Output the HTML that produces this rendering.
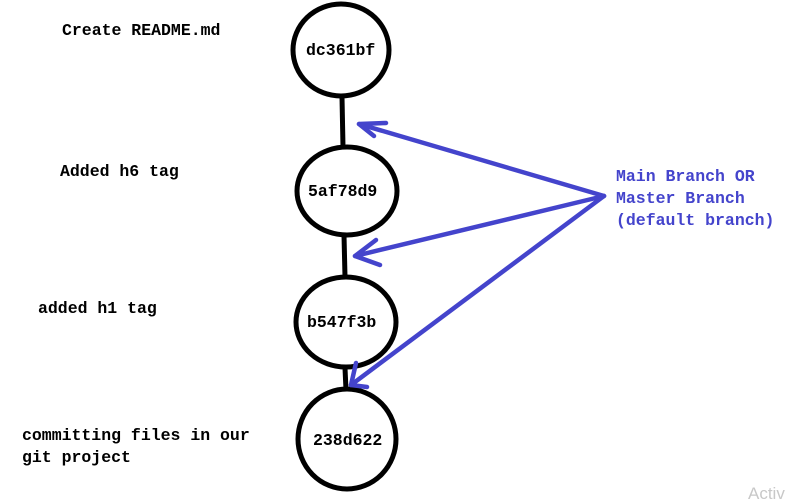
<!DOCTYPE html>
<html><head><style>
body{margin:0;background:#fff;width:787px;height:501px;overflow:hidden}
svg{display:block}
text{font-family:"Liberation Mono",monospace;font-weight:bold;font-size:16.5px}
</style></head><body>
<svg width="787" height="501" viewBox="0 0 787 501">
<g stroke="#000" stroke-width="5" fill="none">
<line x1="342" y1="97" x2="343" y2="147"/>
<line x1="344" y1="235" x2="345" y2="277"/>
<line x1="345" y1="368" x2="346" y2="390"/>
<ellipse cx="341" cy="50" rx="48" ry="46"/>
<ellipse cx="347" cy="191" rx="50" ry="44"/>
<ellipse cx="346" cy="322" rx="50" ry="45"/>
<ellipse cx="347" cy="439" rx="49" ry="50"/>
</g>
<g fill="#000">
<text x="306" y="55">dc361bf</text>
<text x="308" y="196">5af78d9</text>
<text x="307" y="327">b547f3b</text>
<text x="313" y="445">238d622</text>
<text x="62" y="35">Create README.md</text>
<text x="60" y="176">Added h6 tag</text>
<text x="38" y="313">added h1 tag</text>
<text x="22" y="440">committing files in our</text>
<text x="22" y="462">git project</text>
</g>
<g stroke="#4444cc" stroke-width="4.5" fill="none" stroke-linecap="round" stroke-linejoin="round">
<line x1="604" y1="196" x2="359" y2="124"/>
<polyline points="386,123 359,124 374,136"/>
<line x1="604" y1="196" x2="355" y2="256"/>
<polyline points="376,240 355,256 380,265"/>
<line x1="604" y1="196" x2="351" y2="385"/>
<polyline points="356,363 351,385 367,387"/>
</g>
<g fill="#4444cc">
<text x="616" y="181">Main Branch OR</text>
<text x="616" y="203">Master Branch</text>
<text x="616" y="225">(default branch)</text>
</g>
<text x="748" y="499" fill="#c8c8c8" style="font-family:'Liberation Sans',sans-serif;font-weight:normal;font-size:17px">Activ</text>
</svg>
</body></html>
